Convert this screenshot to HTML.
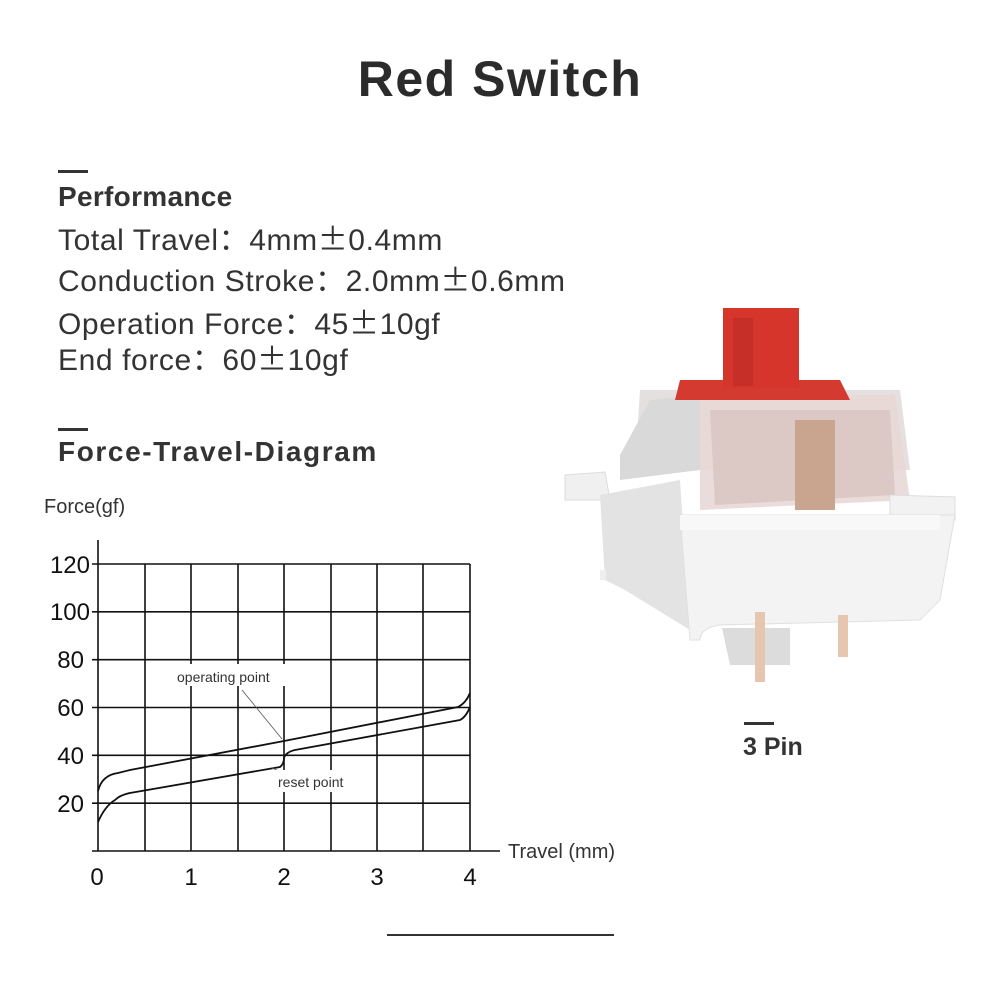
<!DOCTYPE html>
<html><head><meta charset="utf-8"><style>
body{margin:0;width:1000px;height:1000px;background:#fff;position:relative;font-family:"Liberation Sans",sans-serif;color:#333;overflow:hidden}
.a{position:absolute;white-space:nowrap}
.c{font-family:"Noto Sans CJK SC",sans-serif}
.l{font-size:30px;left:58px;line-height:36px;letter-spacing:0.6px}
</style></head><body>
<div class="a" style="left:0;width:1000px;text-align:center;top:50px;font-size:50px;font-weight:bold;color:#2b2b2b;letter-spacing:1.5px">Red Switch</div>
<div class="a" style="left:58px;top:170px;width:30px;height:3px;background:#333"></div>
<div class="a" style="left:58px;top:181px;font-size:28px;font-weight:bold;letter-spacing:0.3px">Performance</div>
<div class="a l" style="top:219px">Total Travel<span class="c">：</span>4mm<span class="c">±</span>0.4mm</div>
<div class="a l" style="top:260px">Conduction Stroke<span class="c">：</span>2.0mm<span class="c">±</span>0.6mm</div>
<div class="a l" style="top:303px">Operation Force<span class="c">：</span>45<span class="c">±</span>10gf</div>
<div class="a l" style="top:339px">End force<span class="c">：</span>60<span class="c">±</span>10gf</div>
<div class="a" style="left:58px;top:428px;width:30px;height:3px;background:#333"></div>
<div class="a" style="left:58px;top:436px;font-size:28px;font-weight:bold;letter-spacing:1.6px">Force-Travel-Diagram</div>
<div class="a" style="left:44px;top:496px;font-size:20px">Force(gf)</div>
<div class="a" style="left:508px;top:841px;font-size:20px">Travel (mm)</div>
<div class="a" style="left:744px;top:722px;width:30px;height:3px;background:#333"></div>
<div class="a" style="left:743px;top:733px;font-size:25px;font-weight:bold">3 Pin</div>
<div class="a" style="left:387px;top:934px;width:227px;height:2px;background:#333"></div>
<svg class="a" style="left:0;top:0" width="1000" height="1000">
<g stroke="#111" stroke-width="1.6" fill="none">
<path d="M98 540V851M92 851H500M92 564H470M92 611.8H470M92 659.7H470M92 707.5H470M92 755.3H470M92 803.2H470"/>
<path d="M145 564V851M191 564V851M238 564V851M284 564V851M331 564V851M377 564V851M423 564V851M470 564V851"/>
<path d="M98 791 Q102 775 118 773 L130 770 L284 741 L458 707 Q466 703 470 693" stroke-width="1.8"/>
<path d="M98 822 Q105 806 115 800 Q120 795 130 793 L280 767 Q284 764 284 758 Q286 752 295 750 L460 720 Q466 717 470 707" stroke-width="1.8"/>
</g>
<g stroke="#555" stroke-width="0.8"><line x1="242" y1="690" x2="282" y2="739"/><line x1="272" y1="768" x2="288" y2="775"/></g>
<rect x="175" y="664" width="120" height="22" fill="#fff"/>
<rect x="275" y="770" width="84" height="22" fill="#fff"/>
<g font-family="Liberation Sans,sans-serif" fill="#333">
<text x="177" y="682" font-size="14">operating point</text>
<text x="278" y="787" font-size="14">reset point</text>
</g>
<g font-family="Liberation Sans,sans-serif" fill="#111" font-size="24">
<text x="90" y="573" text-anchor="end">120</text><text x="90" y="620" text-anchor="end">100</text>
<text x="84" y="668" text-anchor="end">80</text><text x="84" y="716" text-anchor="end">60</text>
<text x="84" y="764" text-anchor="end">40</text><text x="84" y="812" text-anchor="end">20</text>
<text x="97" y="885" text-anchor="middle">0</text><text x="191" y="885" text-anchor="middle">1</text>
<text x="284" y="885" text-anchor="middle">2</text><text x="377" y="885" text-anchor="middle">3</text>
<text x="470" y="885" text-anchor="middle">4</text></g>
<g>
<path d="M640 390 L900 390 L910 470 L635 470 Z" fill="#e4e0e0"/>
<path d="M620 455 L650 400 L700 395 L700 470 L620 480 Z" fill="#d9d9d9"/>
<path d="M700 395 L895 395 L910 500 L700 510 Z" fill="#e8d8d6" opacity=".9"/>
<path d="M710 410 L890 410 L895 495 L715 505 Z" fill="#dcc8c4"/>
<rect x="795" y="420" width="40" height="90" fill="#c9a48e"/>
<path d="M680 380 L840 380 L850 400 L675 400 Z" fill="#d43a30"/>
<rect x="723" y="308" width="76" height="80" fill="#d6352c"/>
<rect x="733" y="318" width="20" height="68" fill="#c52f27"/>
<path d="M565 475 L605 472 L610 500 L565 500 Z" fill="#f0f0f0" stroke="#ddd"/>
<path d="M890 495 L955 497 L955 520 L890 520 Z" fill="#f2f2f2" stroke="#ddd"/>
<path d="M600 495 L680 480 L690 630 L625 590 L605 580 Z" fill="#e3e3e3"/>
<path d="M680 515 L955 515 L940 600 L920 620 L720 625 Q700 628 700 640 L690 640 Z" fill="#f3f3f3" stroke="#e0e0e0"/>
<path d="M680 515 L940 515 L940 530 L680 530 Z" fill="#f8f8f8"/>
<path d="M722 628 L790 628 L790 665 L730 665 Z" fill="#dcdcdc"/>
<rect x="755" y="612" width="10" height="70" fill="#e6c6ae"/>
<rect x="838" y="615" width="10" height="42" fill="#e6c6ae"/>
<rect x="600" y="570" width="6" height="10" fill="#eee"/>
</g>
</svg>
</body></html>
